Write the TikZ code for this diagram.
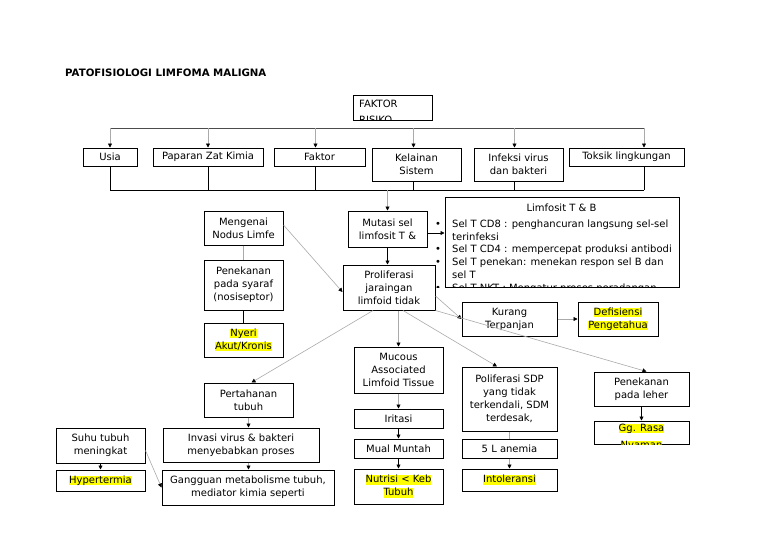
\documentclass[tikz,border=0pt]{standalone}
\usepackage{fontspec}
\setmainfont{DejaVu Sans}
\usetikzlibrary{arrows.meta}
\definecolor{hly}{HTML}{FFFF00}
\definecolor{lnk}{HTML}{AAAAAA}
\newcommand\hl[1]{{\setlength{\fboxsep}{0pt}\colorbox{hly}{\vphantom{Ag}#1}}}
\newcommand\bx[6]{\node[box, minimum width={(#4-#2)*1pt}, minimum height={(#5-#3)*1pt}] (#1) at ({(#2+#4)/2},{(#3+#5)/2}) {#6};}
\begin{document}
\begin{tikzpicture}[x=1pt,y=-1pt,
 box/.style={draw=black, line width=1pt, inner sep=1pt, align=center, font=\fontsize{10}{13}\selectfont, fill=white},
 txt/.style={inner sep=0pt, font=\fontsize{10}{13}\selectfont},
 gl/.style={draw=lnk, line width=0.6pt, -{Triangle[black,length=4pt,width=4pt]}},
 gn/.style={draw=lnk, line width=0.6pt},
 bl/.style={draw=black, line width=0.8pt, -{Triangle[black,length=4pt,width=4pt]}},
 bn/.style={draw=black, line width=0.8pt},
]
\useasboundingbox[fill=white] (0,0) rectangle (768,543);

\node[anchor=base west, inner sep=0pt, font=\bfseries\fontsize{10.2}{12}\selectfont] (title) at (65,76) {PATOFISIOLOGI LIMFOMA MALIGNA};

% FAKTOR RISIKO (clipped)
\bx{risiko}{353}{95}{432}{120}{}
\begin{scope}
\clip ([shift={(0.5pt,0.5pt)}]risiko.south west) rectangle ([shift={(-0.5pt,-0.5pt)}]risiko.north east);
\node[txt, anchor=north west, align=left, font=\fontsize{10}{16.5}\selectfont] (risikotxt) at (359,99.7) {FAKTOR\\RISIKO};
\end{scope}

% row of factors
\bx{usia}{83}{148}{137}{166}{Usia}
\bx{paparan}{153}{148}{263}{166}{Paparan Zat Kimia}
\bx{faktor}{274}{148}{365}{166}{Faktor}
\bx{kelainan}{372}{148}{461}{181}{Kelainan\\Sistem}
\bx{infeksi}{474}{148}{563}{181}{Infeksi virus\\dan bakteri}
\bx{toksik}{569}{148}{684}{166}{Toksik lingkungan}

% middle
\bx{mengenai}{204}{211}{283}{245}{Mengenai\\Nodus Limfe}
\bx{syaraf}{204}{260}{283}{310}{Penekanan\\pada syaraf\\(nosiseptor)}
\bx{nyeri}{204}{323}{283}{357}{\hl{Nyeri}\\\hl{Akut/Kronis}}
\bx{mutasi}{348}{211}{427}{247}{Mutasi sel\\limfosit T \&}
\bx{prolif}{343}{265}{435}{310}{Proliferasi\\jaraingan\\limfoid tidak}
\bx{kurang}{462}{302}{557}{336}{Kurang\\Terpanjan}
\bx{defis}{578}{302}{658}{336}{\hl{Defisiensi}\\\hl{Pengetahua}}

% Limfosit box (clipped)
\bx{limfosit}{445}{197}{679}{287}{}
\node[txt] (limtitle) at (561.5,208) {Limfosit T \& B};
\begin{scope}
\clip ([shift={(-20pt,0.5pt)}]limfosit.south west) rectangle ([shift={(-0.5pt,-0.5pt)}]limfosit.north east);
\node[txt, anchor=north west, align=left, font=\fontsize{10}{12.8}\selectfont] (limlist) at (435,219.5) {%
\makebox[17pt][l]{\textbullet}Sel T CD8 : penghancuran langsung sel-sel\\
\makebox[17pt]{}terinfeksi\\
\makebox[17pt][l]{\textbullet}Sel T CD4 : mempercepat produksi antibodi\\
\makebox[17pt][l]{\textbullet}Sel T penekan: menekan respon sel B dan\\
\makebox[17pt]{}sel T\\
\makebox[17pt][l]{\textbullet}Sel T NKT : Mengatur proses peradangan};
\end{scope}

% lower
\bx{mucous}{354}{347}{443}{393}{Mucous\\Associated\\Limfoid Tissue}
\bx{pertahanan}{204}{383}{293}{417}{Pertahanan\\tubuh}
\bx{invasi}{163}{428}{319}{462}{Invasi virus \& bakteri\\menyebabkan proses}
\bx{gangguan}{162}{470}{334}{505}{Gangguan metabolisme tubuh,\\mediator kimia seperti}
\bx{suhu}{56}{428}{145}{463}{Suhu tubuh\\meningkat}
\bx{hyper}{56}{470}{145}{491}{\hl{Hypertermia}}
\bx{iritasi}{354}{409}{443}{428}{Iritasi}
\bx{mual}{354}{439}{443}{458}{Mual Muntah}
\bx{nutrisi}{354}{469}{443}{504}{\hl{Nutrisi < Keb}\\\hl{Tubuh}}
\bx{poliferasi}{462}{367}{557}{431}{Poliferasi SDP\\yang tidak\\terkendali, SDM\\terdesak,}
\bx{anemia}{462}{439}{557}{458}{5 L anemia}
\bx{intol}{462}{469}{557}{491}{\hl{Intoleransi}}
\bx{leher}{594}{372}{689}{406}{Penekanan\\pada leher}
\bx{ggrasa}{594}{421}{689}{444}{}
\begin{scope}
\clip ([shift={(0.5pt,0.5pt)}]ggrasa.south west) rectangle ([shift={(-0.5pt,-0.5pt)}]ggrasa.north east);
\node[txt, anchor=north, align=center, font=\fontsize{10}{17}\selectfont] (ggtxt) at (641.5,423.5) {\hl{Gg. Rasa}\\\hl{Nyaman}};
\end{scope}

% top bus
\coordinate (tb1) at (110,128);
\coordinate (tb2) at (644,128);
\draw[bn, draw=black!70] (tb1) -- (tb2);
\draw[gl] (tb1) -- (usia.north);
\draw[gl] (paparan.north |- tb1) -- (paparan.north);
\draw[gl] ([xshift=-4pt]faktor.north |- tb1) -- ([xshift=-4pt]faktor.north);
\draw[gl] ([xshift=-3pt]kelainan.north |- tb1) -- ([xshift=-3pt]kelainan.north);
\draw[gl] ([xshift=-4pt]infeksi.north |- tb1) -- ([xshift=-4pt]infeksi.north);
\draw[gl] (tb2) -- (tb2 |- toksik.north);

% bottom bus
\coordinate (bb1) at (110,190);
\coordinate (bb2) at (644,190);
\draw[bn] (usia.south) -- (usia.south |- bb1);
\draw[bn] (paparan.south) -- (paparan.south |- bb1);
\draw[bn] ([xshift=-4pt]faktor.south) -- ([xshift=-4pt]faktor.south |- bb1);
\draw[bn] ([xshift=-3pt]kelainan.south) -- ([xshift=-3pt]kelainan.south |- bb1);
\draw[bn] ([xshift=-4pt]infeksi.south) -- ([xshift=-4pt]infeksi.south |- bb1);
\draw[bn] (bb2 |- toksik.south) -- (bb2);
\draw[bn] (bb1) -- (bb2);
\draw[gl] (mutasi.north |- bb1) -- (mutasi.north);

% middle connectors
\draw[gn] (mengenai.south) -- (syaraf.north);
\draw[bn] (syaraf.south) -- (nyeri.north);
\draw[gl] ([yshift=3pt]mengenai.east) -- ([yshift=-4.5pt]prolif.west);
\draw[bl] ([yshift=-4pt]mutasi.east) -- ([yshift=-4pt]mutasi.east -| limfosit.west);
\draw[bl] (mutasi.south) -- (mutasi.south |- prolif.north);
\draw[gl] ([yshift=-8.5pt]prolif.east) -- (kurang.west);
\draw[gl] (kurang.east) -- (defis.west);
\draw[gl] (mucous.north |- prolif.south) -- (mucous.north);
\draw[gl] ([xshift=-16pt]prolif.south) -- ([xshift=3pt]pertahanan.north);
\draw[gl] ([xshift=14pt]prolif.south) -- ([xshift=-12.5pt]poliferasi.north);
\draw[gl] (prolif.south east) -- ([xshift=5pt]leher.north);

% lower connectors
\draw[gl] (mucous.south) -- (iritasi.north);
\draw[bl] (iritasi.south) -- (mual.north);
\draw[bl] (mual.south) -- (nutrisi.north);
\draw[gn] (poliferasi.south) -- (anemia.north);
\draw[gl] (anemia.south) -- (intol.north);
\draw[bl] (leher.south) -- (ggrasa.north);
\draw[gl] (pertahanan.south) -- (pertahanan.south |- invasi.north);
\draw[gl] (pertahanan.south |- invasi.south) -- (pertahanan.south |- gangguan.north);
\draw[bl] (suhu.south) -- (hyper.north);
\draw[gl] ([yshift=-5pt]suhu.east) -- (gangguan.west);
\end{tikzpicture}
\end{document}
